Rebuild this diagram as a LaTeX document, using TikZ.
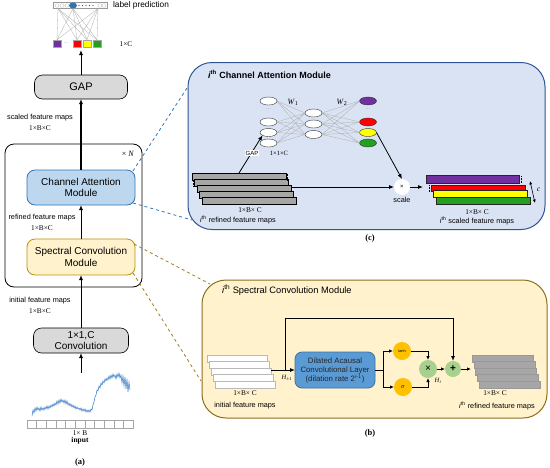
\documentclass[tikz,border=0pt]{standalone}
\usepackage{fontspec}
\setmainfont{Liberation Serif}
\setsansfont{Liberation Sans}
\usetikzlibrary{arrows.meta,calc,shapes.geometric}
\definecolor{cpanel}{HTML}{DAE3F3}
\definecolor{cborder}{HTML}{2F5597}
\definecolor{cdashc}{HTML}{2E75B6}
\definecolor{spanel}{HTML}{FFF2CC}
\definecolor{sborder}{HTML}{8C7020}
\definecolor{sdashc}{HTML}{A07C1E}
\definecolor{camfill}{HTML}{BDD7EE}
\definecolor{camdraw}{HTML}{2E75B6}
\definecolor{scmdraw}{HTML}{BF9000}
\definecolor{boxgray}{HTML}{D9D9D9}
\definecolor{slabgray}{HTML}{A6A6A6}
\definecolor{cpurple}{HTML}{7030A0}
\definecolor{cred}{HTML}{FF0000}
\definecolor{cyellow}{HTML}{FFFF00}
\definecolor{cgreen}{HTML}{22A022}
\definecolor{dacfill}{HTML}{5B9BD5}
\definecolor{dacdraw}{HTML}{41719C}
\definecolor{corange}{HTML}{FFC000}
\definecolor{cgreenl}{HTML}{A9D18E}
\definecolor{specblue}{HTML}{3A7DC4}
\tikzset{
  every node/.style={inner sep=0pt, outer sep=0pt},
  arr/.style={-{Latex[length=5pt,width=4pt]}, line width=0.9pt},
  thinarr/.style={-{Latex[length=4pt,width=3.5pt]}, line width=0.8pt},
  fcl/.style={draw=gray!65, line width=0.3pt},
  lbl/.style={font=\sffamily\fontsize{7.3}{8.3}\selectfont, align=center},
  num/.style={font=\fontsize{7.3}{8.3}\selectfont, align=center},
  gbox/.style={draw=black, fill=boxgray, rounded corners=8pt, line width=0.6pt, font=\sffamily\fontsize{11}{12.5}\selectfont, align=center},
  sqr/.style={draw=gray!70, line width=0.3pt, minimum size=7.5pt},
  neu/.style={ellipse, draw=black!80, line width=0.4pt, fill=white, minimum width=17pt, minimum height=8pt},
  slab/.style={draw=black, line width=0.4pt, fill=slabgray, minimum height=7pt},
  wslab/.style={draw=gray!55, line width=0.4pt, fill=white, minimum height=7pt, minimum width=60pt},
  gslab/.style={draw=gray!80, line width=0.4pt, fill=slabgray, minimum height=7pt, minimum width=61pt},
  cslab/.style={draw=black!85, line width=0.5pt, minimum height=7pt},
  cdash/.style={draw=cdashc, dashed, line width=0.8pt},
  sdash/.style={draw=sdashc, dashed, line width=0.8pt},
  captxt/.style={font=\bfseries\fontsize{8.5}{9}\selectfont},
}
\begin{document}
\begin{tikzpicture}[x=1pt,y=-1pt]
\useasboundingbox (0,0) rectangle (550,467);

% ---------- panels ----------
\node[draw=cborder, fill=cpanel, rounded corners=24pt, line width=1pt, minimum width=357pt, minimum height=167pt] (cpan) at (366.5,146) {};
\node[draw=sborder, fill=spanel, rounded corners=24pt, line width=1pt, minimum width=345pt, minimum height=138pt] (span) at (374.5,349) {};

% ---------- left column ----------
\node[draw=black, rounded corners=9pt, line width=0.8pt, minimum width=137pt, minimum height=143pt] (rep) at (73.5,215.5) {};
\node[font=\fontsize{8}{9}\selectfont] (xn) at (128,154) {× \textit{N}};

\node[draw=gray!80, fill=white, minimum width=54pt, minimum height=6pt, line width=0.4pt] (bar) at (80,5.5) {};
\foreach \x in {57,62,67,100,104} \draw[gray!55, line width=0.3pt] (\x,5.5) ellipse (2pt and 1.8pt);
\node[ellipse, fill=cdashc, minimum width=8pt, minimum height=6pt] (bl) at (73,5.5) {};
\foreach \x in {79,82.5,86,89.5,93} \fill[black!70] (\x,5.5) circle (0.6pt);
\coordinate (b1) at (58,8.5);
\coordinate (b2) at (73,8.5);
\coordinate (b3) at (98,8.5);
\node[sqr, fill=cpurple] (s1) at (57,43.5) {};
\node[font=\fontsize{5}{5}\selectfont, text=gray] (sd) at (66,43.5) {···};
\node[sqr, fill=cred] (s2) at (77,43.5) {};
\node[sqr, fill=cyellow] (s3) at (87,43.5) {};
\node[sqr, fill=cgreen] (s4) at (97,43.5) {};
\foreach \c in {b1,b2,b3} \foreach \s in {s1,s2,s3,s4} \draw[fcl] (\c) -- (\s.north);
\node[lbl, font=\sffamily\fontsize{8.3}{9}\selectfont] (lp) at (141,5) {label prediction};
\node[num] (oc) at (126,44) {1×C};

\node[gbox, minimum width=93pt, minimum height=24pt] (gap) at (81,87) {GAP};
\coordinate (sqb) at (81,50);
\draw[arr] (gap.north) -- (sqb);

\node[draw=camdraw, fill=camfill, rounded corners=8pt, line width=0.8pt, minimum width=108pt, minimum height=35pt, font=\sffamily\fontsize{10}{11.5}\selectfont, align=center] (cam) at (81,187.5) {Channel Attention\\Module};
\node[draw=scmdraw, fill=spanel, rounded corners=8pt, line width=0.8pt, minimum width=108pt, minimum height=36pt, font=\sffamily\fontsize{10}{11.5}\selectfont, align=center] (scm) at (81,257) {Spectral Convolution\\Module};
\node[gbox, minimum width=95pt, minimum height=25pt, font=\sffamily\fontsize{10}{11.5}\selectfont] (conv) at (81,340.5) {1×1,C\\Convolution};

\draw[arr, line width=1.2pt] (cam.north) -- (gap.south);
\draw[arr] (scm.north) -- (cam.south);
\draw[arr] (conv.north) -- (scm.south);
\coordinate (sig) at (81,373);
\draw[arr] (sig) -- (conv.south);

\node[lbl] (sfm) at (40,118) {scaled feature maps};
\node[num] (sfmd) at (40,128) {1×B×C};
\node[lbl] (rfm) at (42,218) {refined feature maps};
\node[num] (rfmd) at (42,228) {1×B×C};
\node[lbl] (ifm) at (40,301) {initial feature maps};
\node[num] (ifmd) at (40,311) {1×B×C};

% spectrum
\draw[specblue, line width=0.5pt] plot coordinates {(32,416) (33,410) (34,413) (35,408) (36,411) (37,407) (38,410) (39,408) (40,411) (41,407) (42,410) (43,408) (44,410) (45,407) (46,409) (47,406) (48,409) (49,406) (50,408) (51,405) (52,407) (53,404) (54,406) (55,403) (56,405) (57,401) (58,404) (59,400) (60,403) (61,399) (62,402) (63,400) (64,403) (65,400) (66,404) (67,401) (68,405) (69,403) (70,406) (71,404) (72,407) (73,405) (74,408) (75,406) (76,409) (77,407) (78,409) (79,408) (80,410) (81,408) (82,411) (83,409) (84,411) (85,409) (86,412) (87,410) (88,412) (89,410) (90,412) (91,409) (92,410) (93,405) (94,402) (95,397) (96,395) (97,390) (98,391) (99,386) (100,388) (101,383) (102,385) (103,381) (104,383) (105,379) (106,381) (107,378) (108,380) (109,376) (110,379) (111,375) (112,378) (113,374) (114,377) (115,375) (116,379) (117,374) (118,377) (119,373) (120,378) (121,375) (122,383) (123,376) (124,386) (125,377) (126,389) (127,379) (128,392) (129,382) (130,390)};
\foreach \i in {0,...,10} \draw[gray!70, line width=0.4pt] ({27+\i*9.636},420) rectangle ({27+(\i+1)*9.636},428);
\node[num] (ib) at (80,433) {1× B};
\node[font=\bfseries\fontsize{7.5}{8}\selectfont] (inp) at (80,441) {input};
\node[captxt] (capa) at (80,462) {(a)};

% ---------- dashed connectors ----------
\coordinate (c1) at (187,88);
\coordinate (c2) at (192,220);
\coordinate (d1) at (210,284);
\coordinate (d2) at (201,381);
\draw[cdash] ($(cam.north east)+(-2,1)$) -- (c1);
\draw[cdash] ($(cam.south east)+(-2,-2)$) -- (c2);
\draw[sdash] ($(scm.north east)+(-1,5)$) -- (d1);
\draw[sdash] ($(scm.south east)+(-2,-2)$) -- (d2);

% ---------- channel attention panel ----------
\node[font=\sffamily\bfseries\fontsize{9}{10}\selectfont, anchor=west] (ct) at (208,74) {\textit{i}\textsuperscript{th} Channel Attention Module};

\node[neu] (i1) at (268.5,101) {};
\node[font=\fontsize{5}{5}\selectfont, text=gray] (id) at (268.5,110) {···};
\node[neu] (i2) at (268.5,122) {};
\node[neu] (i3) at (268.5,132.5) {};
\node[neu] (i4) at (268.5,143) {};
\node[neu] (h1) at (313.5,113) {};
\node[neu] (h2) at (313.5,124) {};
\node[neu] (h3) at (313.5,134.5) {};
\node[neu, fill=cpurple] (o1) at (368,101) {};
\node[font=\fontsize{5}{5}\selectfont, text=gray] (od) at (368,110) {···};
\node[neu, fill=cred] (o2) at (368,122) {};
\node[neu, fill=cyellow] (o3) at (368,132.5) {};
\node[neu, fill=cgreen] (o4) at (368,143) {};
\foreach \a in {i1,i2,i3,i4} \foreach \b in {h1,h2,h3} \draw[fcl] (\a.east) -- (\b.west);
\foreach \a in {h1,h2,h3} \foreach \b in {o1,o2,o3,o4} \draw[fcl] (\a.east) -- (\b.west);
\node[font=\fontsize{8}{9}\selectfont] (w1) at (293,102) {\textit{W}\textsubscript{1}};
\node[font=\fontsize{8}{9}\selectfont] (w2) at (342,102) {\textit{W}\textsubscript{2}};

\node[slab, minimum width=94pt] (r1) at (239,176.5) {};
\node[slab, minimum width=94pt] (r2) at (241.5,182.5) {};
\node[slab, minimum width=94pt] (r3) at (244,188.5) {};
\node[slab, minimum width=94pt] (r4) at (246.5,194.5) {};
\node[slab, minimum width=94pt] (r5) at (249,200.5) {};
\draw[densely dotted, line width=0.5pt] ($(r1.north east)+(1.5,0.5)$) -- ($(r1.south east)+(1.5,0)$);
\draw[densely dotted, line width=0.5pt] ($(r2.north west)+(-1.5,0.5)$) -- ($(r2.south west)+(-1.5,0)$);

\draw[arr, line width=0.8pt] (r1.north) -- (i3.south west);
\node[font=\sffamily\fontsize{6}{6.5}\selectfont, fill=white, inner sep=0.6pt] (gl) at (252,153) {GAP};
\node[num, font=\fontsize{6.5}{7}\selectfont] (g11) at (279,153.5) {1×1×C};
\node[num] (rd) at (250,210) {1×B× C};
\node[lbl] (rt) at (238,219.5) {\textit{i}\textsuperscript{th} refined feature maps};

\node[circle, fill=white, minimum size=16pt, font=\sffamily\fontsize{6}{6}\selectfont] (sc) at (402,187) {×};
\node[lbl] (scl) at (402,199.5) {scale};
\draw[arr, line width=0.8pt] (r3.east |- sc.west) -- (sc.west);
\draw[arr, line width=0.8pt] (o3.east) -- (sc.north);

\node[cslab, fill=cpurple, minimum width=93pt, minimum height=8pt] (q1) at (472.5,179) {};
\node[cslab, fill=cred, minimum width=94pt, minimum height=6pt] (q2) at (478,188) {};
\node[cslab, fill=cyellow, minimum width=94pt, minimum height=7pt] (q3) at (480,193.5) {};
\node[cslab, fill=cgreen, minimum width=94pt, minimum height=7pt] (q4) at (483,200.5) {};
\draw[densely dotted, line width=0.5pt] ($(q1.north east)+(2,1)$) -- ($(q1.south east)+(2,0)$);
\draw[densely dotted, line width=0.5pt] ($(q2.north west)+(-2,0)$) -- ($(q2.south west)+(-2,1)$);
\coordinate (qa) at ($(q2.west |- sc.east)+(-8,0)$);
\draw[arr, line width=0.8pt] (sc.east) -- (qa);
\coordinate (ca) at (530,181);
\coordinate (cb) at (535,203);
\draw[{Latex[length=3.5pt,width=3pt]}-{Latex[length=3.5pt,width=3pt]}, line width=0.6pt] (ca) -- (cb);
\node[font=\itshape\fontsize{7.5}{8}\selectfont] (cl) at (538.5,190) {c};
\node[num] (qd) at (477,212) {1×B× C};
\node[lbl] (qt) at (477,220.5) {\textit{i}\textsuperscript{th} scaled feature maps};
\node[captxt] (capc) at (370,238) {(c)};

% ---------- spectral convolution panel ----------
\node[font=\sffamily\fontsize{9.3}{10}\selectfont, anchor=west] (stt) at (222,290) {\textit{i}\textsuperscript{th} Spectral Convolution Module};

\node[wslab] (w1s) at (237,358.5) {};
\node[wslab] (w2s) at (239,365) {};
\node[wslab] (w3s) at (241,371.5) {};
\node[wslab] (w4s) at (243,378) {};
\node[wslab] (w5s) at (245,384.5) {};
\node[num] (wd) at (245,393.5) {1×B× C};
\node[lbl] (wt) at (245,406) {initial feature maps};

\node[draw=dacdraw, fill=dacfill, rounded corners=7pt, line width=0.8pt, minimum width=80pt, minimum height=36pt, font=\sffamily\fontsize{7.8}{9}\selectfont, align=center, text=black!85] (dacl) at (335,370) {Dilated Acausal\\Convolutional Layer\\(dilation rate 2\textsuperscript{\textit{i}-1})};
\draw[arr, line width=0.8pt] (w3s.east |- dacl.west) -- (dacl.west);
\node[font=\fontsize{6.5}{7}\selectfont] (hm) at (287,378) {\textit{H}\textsubscript{\textit{i}-1}};

\node[circle, fill=corange, minimum size=18pt, font=\sffamily\fontsize{3.8}{4}\selectfont] (tanh) at (402,351) {tanh};
\node[circle, fill=corange, minimum size=18pt, font=\fontsize{6.5}{7}\selectfont] (sgm) at (403,387) {$\sigma$};
\node[circle, fill=cgreenl, minimum size=18pt, font=\sffamily\fontsize{10}{10}\selectfont] (mul) at (428,369) {×};
\node[circle, fill=cgreenl, minimum size=16pt, font=\sffamily\bfseries\fontsize{10}{10}\selectfont] (plus) at (453,369) {+};
\node[font=\fontsize{6.5}{7}\selectfont] (hi) at (438,381) {\textit{H}\textsubscript{\textit{i}}};

\coordinate (sp) at (383,370);
\draw[line width=0.8pt] (dacl.east) -- (sp);
\draw[line width=0.8pt] (sp |- tanh.west) -- (sp |- sgm.west);
\draw[thinarr] (sp) |- (tanh.west);
\draw[thinarr] (sp) |- (sgm.west);
\draw[thinarr] (tanh.east) -| (mul.north);
\draw[thinarr] (sgm.east) -| (mul.south);
\draw[thinarr] (mul.east) -- (plus.west);

\coordinate (sk) at (285,370);
\coordinate (skt) at (285,318);
\draw[arr, line width=0.9pt] (sk) -- (skt) -| (plus.north);

\node[gslab] (g1) at (502.5,358.5) {};
\node[gslab] (g2) at (504.3,365) {};
\node[gslab] (g3) at (506.1,371.5) {};
\node[gslab] (g4) at (507.9,378) {};
\node[gslab] (g5) at (509.7,384.5) {};
\coordinate (ga) at ($(plus.east -| g1.west)+(-1,0)$);
\draw[thinarr] (plus.east) -- (ga);
\node[num] (gd) at (495,393.5) {1×B× C};
\node[lbl] (gt) at (497,405.5) {\textit{i}\textsuperscript{th} refined feature maps};
\node[captxt] (capb) at (370,433) {(b)};
\end{tikzpicture}
\end{document}
